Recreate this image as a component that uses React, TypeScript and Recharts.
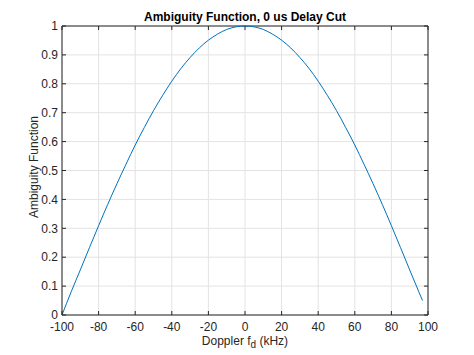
import React from 'react';
import { LineChart, Line, XAxis, YAxis, CartesianGrid, ReferenceLine, Label } from 'recharts';

// Doppler shift (kHz) and the zero-delay cut of the ambiguity function
const doppler = [
    -100, -95, -90, -85, -80, -75, -70, -65, -60, -55, -50, -45, -40, -35, -30, -25, -20, -15, -10, -5,
    0, 5, 10, 15, 20, 25, 30, 35, 40, 45, 50, 55, 60, 65, 70, 75, 80, 85, 90, 95, 97,
];
const ambiguity = [
    0, 0.08, 0.156, 0.233, 0.309, 0.383, 0.454, 0.522, 0.588, 0.649, 0.707, 0.76, 0.809, 0.853, 0.891, 0.924, 0.951, 0.972, 0.988, 0.997,
    1, 0.997, 0.988, 0.972, 0.951, 0.924, 0.891, 0.853, 0.809, 0.76, 0.707, 0.649, 0.588, 0.522, 0.454, 0.383, 0.309, 0.233, 0.156, 0.08, 0.05,
];
const xTicks = [-100, -80, -60, -40, -20, 0, 20, 40, 60, 80, 100];
const yTicks = [0, 0.1, 0.2, 0.3, 0.4, 0.5, 0.6, 0.7, 0.8, 0.9, 1];

const W = 474;
const H = 355;
const M = { top: 26, right: 46, bottom: 40, left: 62 };
const plotTop = M.top;
const plotBottom = H - M.bottom;
const plotLeft = M.left;
const plotRight = W - M.right;

const FONT = '"Liberation Sans", Arial, Helvetica, sans-serif';
const AXIS = '#262626';
const TICK_LEN = 4;
const FS = 12;

const data = doppler.map((f, i) => ({ f, a: ambiguity[i] }));

const XTick = (props: any) => {
    const x = props.payload.coordinate;
    return (
        <g>
            <line x1={x} x2={x} y1={plotBottom} y2={plotBottom - TICK_LEN} stroke={AXIS} />
            <line x1={x} x2={x} y1={plotTop} y2={plotTop + TICK_LEN} stroke={AXIS} />
            <text x={x} y={plotBottom + 7} dy="0.71em" textAnchor="middle" fill={AXIS} fontSize={FS} fontFamily={FONT}>
                {props.payload.value}
            </text>
        </g>
    );
};

const YTick = (props: any) => {
    const y = props.payload.coordinate;
    return (
        <g>
            <line x1={plotLeft} x2={plotLeft + TICK_LEN} y1={y} y2={y} stroke={AXIS} />
            <line x1={plotRight} x2={plotRight - TICK_LEN} y1={y} y2={y} stroke={AXIS} />
            <text x={plotLeft - 4} y={y} dy="0.355em" textAnchor="end" fill={AXIS} fontSize={FS} fontFamily={FONT}>
                {props.payload.value}
            </text>
        </g>
    );
};

const XLabel = () => (
    <text x={(plotLeft + plotRight) / 2} y={345} textAnchor="middle" fill={AXIS} fontSize={FS} fontFamily={FONT}>
        Doppler f
        <tspan fontSize={10} dy={3}>d</tspan>
        <tspan dy={-3}> (kHz)</tspan>
    </text>
);

const YLabel = () => {
    const cx = 34;
    const cy = 167;
    return (
        <text x={cx} y={cy} transform={`rotate(-90, ${cx}, ${cy})`} textAnchor="middle" dy="0.355em" fill={AXIS} fontSize={FS} fontFamily={FONT}>
            Ambiguity Function
        </text>
    );
};

const App: React.FC = () => {
    return (
        <div style={{ position: 'absolute', left: 0, top: 0, width: W, height: H, background: '#fff' }}>
            <LineChart width={W} height={H} data={data} margin={{ top: M.top, right: M.right, bottom: 0, left: 0 }}>
                <CartesianGrid stroke="#e3e3e3" />
                <XAxis
                    dataKey="f"
                    type="number"
                    domain={[-100, 100]}
                    ticks={xTicks}
                    height={M.bottom}
                    stroke={AXIS}
                    tickSize={0}
                    tick={<XTick />}
                    interval={0}
                >
                    <Label content={<XLabel />} />
                </XAxis>
                <YAxis
                    type="number"
                    domain={[0, 1]}
                    ticks={yTicks}
                    width={M.left}
                    stroke={AXIS}
                    tickSize={0}
                    tick={<YTick />}
                    interval={0}
                >
                    <Label content={<YLabel />} />
                </YAxis>
                <ReferenceLine y={1} stroke={AXIS} ifOverflow="visible" />
                <ReferenceLine x={100} stroke={AXIS} ifOverflow="visible" />
                <Line type="monotone" dataKey="a" stroke="#0072BD" strokeWidth={1} dot={false} isAnimationActive={false} />
                <text x={(plotLeft + plotRight) / 2} y={17} dy="0.355em" textAnchor="middle" fill="#000" fontSize={FS} fontWeight="bold" fontFamily={FONT}>
                    Ambiguity Function, 0 us Delay Cut
                </text>
            </LineChart>
        </div>
    );
};

export default App;
